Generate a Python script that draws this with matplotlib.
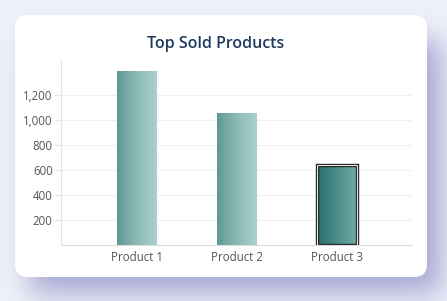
import numpy as np
import matplotlib
matplotlib.use("Agg")
import matplotlib.pyplot as plt
from matplotlib.patches import FancyBboxPatch, Rectangle
from matplotlib.colors import LinearSegmentedColormap
from matplotlib.ticker import FuncFormatter

categories = ["Product 1", "Product 2", "Product 3"]
values = [1390, 1050, 640]
yticks = [200, 400, 600, 800, 1000, 1200]
title = "Top Sold Products"
highlight_index = 2

plt.rcParams['font.family'] = ['Open Sans', 'DejaVu Sans']

W, H = 447, 301
fig = plt.figure(figsize=(W / 100, H / 100), dpi=100)

# Background with blurred drop shadow
bg = fig.add_axes([0, 0, 1, 1])
bg.set_xlim(0, W)
bg.set_ylim(H, 0)
bg.axis('off')
base = np.array([0.935, 0.945, 0.975])
shadow_col = np.array([0.60, 0.60, 0.80])
yy, xx = np.mgrid[0:H, 0:W]
mask = ((xx >= 30) & (xx <= 440) & (yy >= 40) & (yy <= 292)).astype(float)
def blur1d(a, sigma, axis):
    r = int(3 * sigma)
    k = np.exp(-0.5 * (np.arange(-r, r + 1) / sigma) ** 2)
    k /= k.sum()
    pad = [(0, 0), (0, 0)]
    pad[axis] = (r, r)
    ap = np.pad(a, pad, mode='edge')
    return np.apply_along_axis(lambda v: np.convolve(v, k, mode='valid'), axis, ap)
m = blur1d(blur1d(mask, 14, 0), 14, 1)
alpha = 0.85 * m
img = base[None, None, :] * (1 - alpha[..., None]) + shadow_col[None, None, :] * alpha[..., None]
bg.imshow(img, extent=[0, W, H, 0], aspect='auto', zorder=0, interpolation='bilinear')

cx0, cy0, cx1, cy1 = 15, 15, 427, 277
card = FancyBboxPatch((cx0, cy0), cx1 - cx0, cy1 - cy0,
                      boxstyle="round,pad=0,rounding_size=13",
                      fc='white', ec='none', zorder=2)
bg.add_patch(card)

# Chart axes
ax_l, ax_r, ax_t, ax_b = 61, 412, 60, 245
ax = fig.add_axes([ax_l / W, 1 - ax_b / H, (ax_r - ax_l) / W, (ax_b - ax_t) / H])
ax.patch.set_alpha(0)
x = np.arange(len(categories))
bars = ax.bar(x, values, width=0.4, color='none', zorder=3)

normal_cmap = LinearSegmentedColormap.from_list('n', ['#5e9893', '#8cbab6', '#acd0cd'])
hi_cmap = LinearSegmentedColormap.from_list('h', ['#256f6a', '#4a8f8a', '#72aba6'])
grad = np.linspace(0, 1, 256)[None, :]
for i, b in enumerate(bars):
    x0, w, h = b.get_x(), b.get_width(), b.get_height()
    cmap = hi_cmap if i == highlight_index else normal_cmap
    ax.imshow(grad, extent=[x0, x0 + w, 0, h], aspect='auto', cmap=cmap, zorder=3)
    if i == highlight_index:
        ax.add_patch(Rectangle((x0, 0), w, h, fill=False, ec='#111111', lw=2.4, zorder=4,
                               joinstyle='miter'))
        ax.add_patch(Rectangle((x0, 0), w, h, fill=False, ec='#e8e8e8', lw=0.9, zorder=5,
                               joinstyle='miter'))
ax.set_xlim(-0.76, 2.75)
ax.set_ylim(0, 1480)

ax.set_yticks(yticks)
ax.yaxis.set_major_formatter(FuncFormatter(lambda v, p: f"{int(v):,}"))
ax.set_xticks(x)
ax.set_xticklabels(categories)
ax.tick_params(axis='y', labelsize=8.3, colors='#555555', length=4, color='#e6e6e6', pad=2)
ax.tick_params(axis='x', labelsize=8.3, colors='#555555', length=0, pad=4)
ax.grid(axis='y', color='#f0f0f0', lw=0.8, zorder=0)
for s in ['top', 'right']:
    ax.spines[s].set_visible(False)
ax.spines['left'].set_color('#e3e3e3')
ax.spines['bottom'].set_color('#dcdcdc')

fig.text(216 / W, 1 - 44 / H, title, ha='center', va='center', fontsize=11.5,
         color='#1f3a5c', fontweight='semibold')

fig.savefig('out.png', dpi=100)
